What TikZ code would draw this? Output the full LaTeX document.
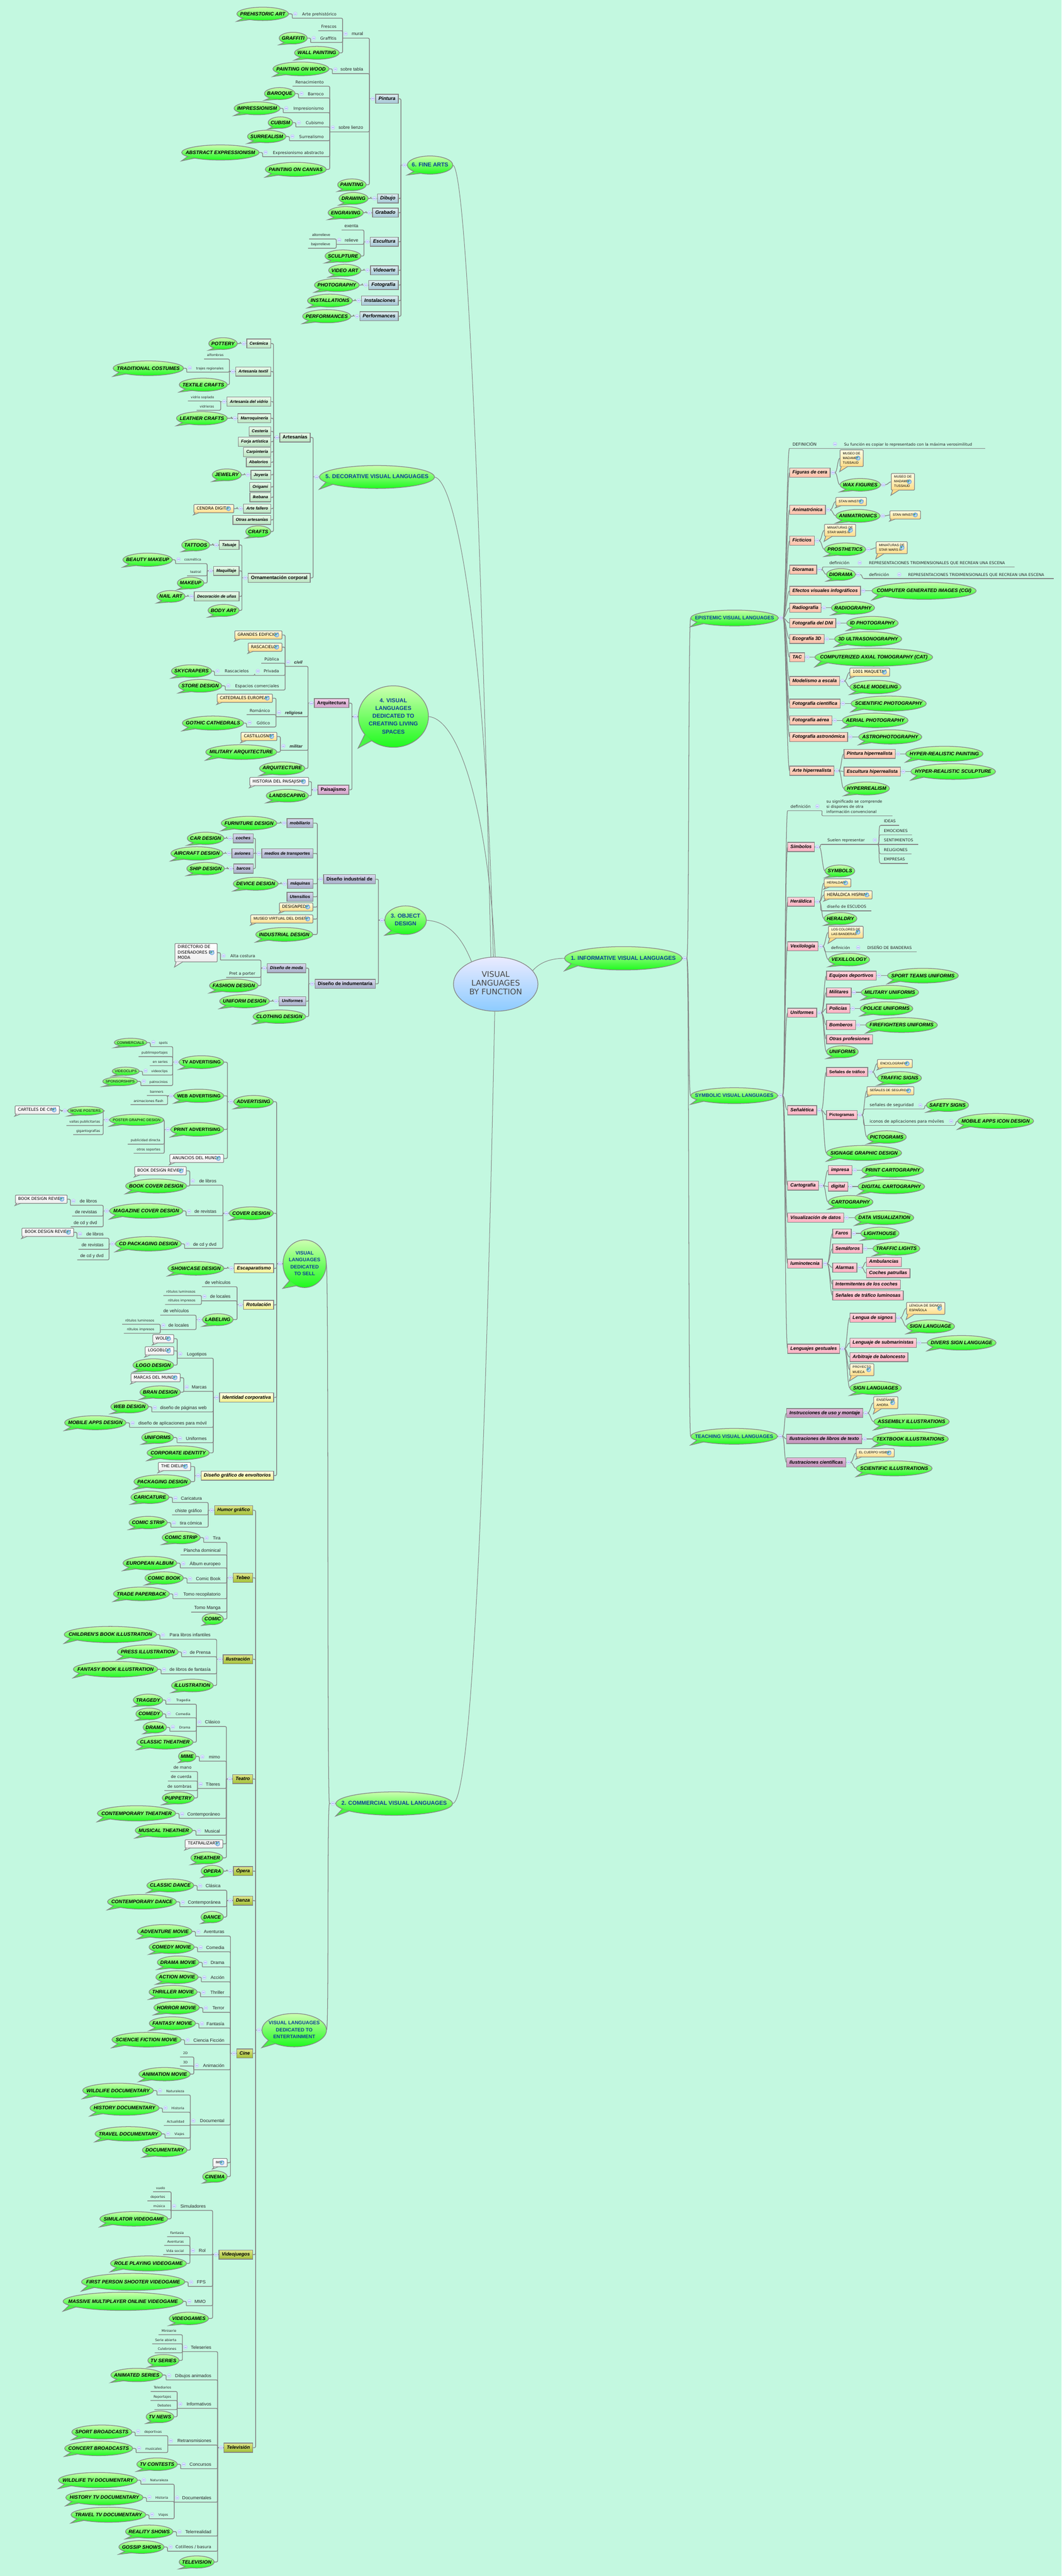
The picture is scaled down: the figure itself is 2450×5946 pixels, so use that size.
\documentclass[tikz,border=0pt]{standalone}
\usepackage{fontspec}
\usetikzlibrary{calc,shapes.geometric}
\newfontfamily\LS{Liberation Sans}
\newfontfamily\DV{DejaVu Sans}
\definecolor{bgc}{HTML}{C3F8E0}
\definecolor{gl}{HTML}{858585}
\definecolor{blu}{HTML}{0B3F96}
\newcommand\fBI[1]{\LS\bfseries\itshape\fontsize{#1}{#1}\selectfont}
\newcommand\fBU[1]{\LS\bfseries\fontsize{#1}{#1}\selectfont}
\newcommand\fbub{\fBI{11.4}}
\newcommand\fblu{\fBU{11.4}\color{blu}}
\newcommand\fad{\fBU{10.6}}
\newcommand\fsm{\LS\fontsize{8.4}{10}\selectfont}
\newcommand\fta{\LS\fontsize{10.5}{12}\selectfont}
\newcommand\ftb{\DV\fontsize{9.5}{12}\selectfont}
\newcommand\ftr{\DV\fontsize{9}{12}\selectfont}
\newcommand\ftc{\DV\fontsize{7.6}{10}\selectfont}
\newcommand\ftd{\LS\fontsize{8.5}{10}\selectfont}
\newcommand\fte{\fBI{9.8}}
\newcommand\flf{\LS\fontsize{7.6}{10.8}\selectfont}
\newcommand\flg{\DV\fontsize{9.4}{12}\selectfont}
\newcommand\flh{\LS\fontsize{9}{12}\selectfont}
\definecolor{topg}{HTML}{CCFFB0}\definecolor{botg}{HTML}{1EFA1E}\definecolor{tailg}{HTML}{48F444}
\definecolor{foldc}{HTML}{DCE4FF}\definecolor{foldb}{HTML}{C0CAF0}
\definecolor{Lyb}{HTML}{FFDC88}
\definecolor{R6a}{HTML}{DCECEE}\definecolor{R6b}{HTML}{A4C6D6}
\definecolor{R5a}{HTML}{EAFAEA}\definecolor{R5b}{HTML}{B8E4C0}
\definecolor{R4a}{HTML}{F4CCEA}\definecolor{R4b}{HTML}{CFA2C8}
\definecolor{R3a}{HTML}{D8D8EC}\definecolor{R3b}{HTML}{A6AEC8}
\definecolor{Rya}{HTML}{FFFFE4}\definecolor{Ryb}{HTML}{F0F08C}
\definecolor{Roa}{HTML}{DCE48A}\definecolor{Rob}{HTML}{A2C034}
\definecolor{Rpa}{HTML}{FFDCCC}\definecolor{Rpb}{HTML}{FFBFA8}
\definecolor{Rqa}{HTML}{FFD4DC}\definecolor{Rqb}{HTML}{FFAFC0}
\definecolor{Rta}{HTML}{E4BCDC}\definecolor{Rtb}{HTML}{C090B8}
\definecolor{glo}{HTML}{5C9AD8}\definecolor{gli}{HTML}{D8ECFA}
\tikzset{
 eline/.style={draw=gl,line width=1.7pt,rounded corners=3pt,line join=round},
 cline/.style={draw=gl,line width=1.5pt,line join=round},
 redge/.style={draw=gl,line width=1.2pt},
 bline/.style={draw=gl,line width=1.5pt,line join=miter},
 tailf/.style={fill=tailg},
 bub/.style={ellipse,draw=gl,line width=1.5pt,top color=topg,bottom color=botg,inner sep=0pt,outer sep=0pt},
 foldn/.style={ellipse,draw=foldb,fill=foldc,line width=.7pt,minimum width=9pt,minimum height=9pt,inner sep=0pt},
 foldm/.style={draw=foldb!80!blue,line width=.7pt},
 tx/.style={inner sep=0pt,outer sep=0pt,text=black!85},
 rbox/.style={rectangle,draw=gl,line width=1.7pt,minimum height=21pt,inner xsep=6.5pt,inner ysep=0pt,outer sep=0pt,text height=8.5pt,text depth=2.5pt,text=black},
 lnk/.style={rectangle,rounded corners=1.5pt,draw=gl,line width=1.5pt,minimum height=19pt,inner xsep=6.5pt,inner ysep=3pt,outer sep=0pt,text=black},
 ly/.style={top color=white!90!yellow,bottom color=Lyb},
 lw/.style={top color=white,bottom color=black!7},
 ly-tail/.style={fill=Lyb},
 lw-tail/.style={fill=black!7},
 r6/.style={top color=R6a,bottom color=R6b,font=\fBI{11.3}},
 r5a/.style={top color=R5a,bottom color=R5b,font=\fBU{11.2}},
 r5/.style={top color=R5a,bottom color=R5b,font=\fBI{9.5}},
 r4/.style={top color=R4a,bottom color=R4b,font=\fBU{11.2}},
 r3a/.style={top color=R3a,bottom color=R3b,font=\fBU{11.1}},
 r3/.style={top color=R3a,bottom color=R3b,font=\fBI{9.8}},
 ry/.style={top color=Rya,bottom color=Ryb,font=\fBI{11}},
 ro/.style={top color=Roa,bottom color=Rob,font=\fBI{11}},
 rp/.style={top color=Rpa,bottom color=Rpb,font=\fBI{10.9}},
 rq/.style={top color=Rqa,bottom color=Rqb,font=\fBI{10.9}},
 rqs/.style={top color=Rqa,bottom color=Rqb,font=\fBU{9.6}},
 rt/.style={top color=Rta,bottom color=Rtb,font=\fBI{10.9}},
}
\newlength\qw \newlength\qh
\newbox\qbox
\def\qhbase{22.5}
\newcommand\qtail[4]{%
 \pgfmathsetmacro\qda{#2}\pgfmathsetmacro\qdb{#3}%
 \pgfmathsetmacro\qua{1-\qda/\qa}\pgfmathsetmacro\qub{1-\qdb/\qa}%
 \pgfmathsetmacro\qya{\qb*sqrt(abs(1-\qua*\qua))}%
 \pgfmathsetmacro\qyb{\qb*sqrt(abs(1-\qub*\qub))}%
 \pgfmathsetmacro\qyt{\qb+#4}%
 \begin{scope}[shift={(#1.west)}]
  \fill[tailf] (\qda,\qya) -- (-0.5,\qyt) -- (\qdb,\qyb) -- cycle;
  \draw[bline] (\qda,\qya) -- (-0.5,\qyt) -- (\qdb,\qyb);
 \end{scope}}
\newcommand\bubcore[6]{%
 \setbox\qbox\hbox{\pgfinterruptpicture#1#6\endpgfinterruptpicture}%
 \qw=1.06\wd\qbox \advance\qw by 9pt\relax
 \pgfmathsetlength\qh{\qhbase pt+0.07*\qw}%
 \node[bub,anchor=#3,minimum width=\the\qw,minimum height=\the\qh] (#2) at (#4,#5) {\makebox[0pt]{#1#6}};
 \pgfmathsetmacro\qa{\qw/2}\pgfmathsetmacro\qb{\qh/2}%
 \qtail{#2}{min(14,0.35*\qa)}{min(30,0.8*\qa)}{2}%
}
\newcommand\xE[2]{\draw[eline] (#1-o) -| (#2-i);}
\newcommand\xC[2]{\draw[cline] (#2-i) .. controls ([xshift=6pt]#2-i) and ([xshift=-6pt]#1-o) .. (#1-o);}
\newcommand\xFold[3]{\node[foldn] (#1-f) at (#2,#3) {};\draw[foldm] ([xshift=-2.6pt]#1-f.center) -- ([xshift=2.6pt]#1-f.center);}
\newcommand\xFL[1]{\coordinate (#1-i) at ([xshift=-14.6pt]#1.west);\draw[cline] (#1-i) -- (#1.west);
 \node[foldn] (#1-f) at ([xshift=-6.7pt]#1.west) {};\draw[foldm] ([xshift=-2.6pt]#1-f.center) -- ([xshift=2.6pt]#1-f.center);}
\newcommand\xFR[1]{\coordinate (#1-i) at ([xshift=11pt]#1.east);\draw[cline] (#1-i) -- (#1.east);
 \node[foldn] (#1-f) at ([xshift=6.5pt]#1.east) {};\draw[foldm] ([xshift=-2.6pt]#1-f.center) -- ([xshift=2.6pt]#1-f.center);}
% left side
\newcommand\xBl[6][\fbub]{\bubcore{#1}{#2}{east}{#4}{#5}{#6}\coordinate (#2-o) at (#2.east);\xE{#2}{#3}}
\newcommand\kRL[6]{\node[rbox,#3,anchor=east] (#1) at (#4,#5) {#6};\coordinate (#1-o) at (#1.east);\xE{#1}{#2}}
\newcommand\kRF[6]{\kRL{#1}{#2}{#3}{#4}{#5}{#6}\xFL{#1}}
\newcommand\kTl[6][\ftb]{\node[tx,anchor=base east,font=#1] (#2) at ({#4-14},{#5-6}) {#6};\coordinate (#2-o) at ([xshift=-7pt,yshift=-6pt]#2.base west);\xE{#2}{#3}}
\newcommand\kTP[7][\ftb]{\node[tx,anchor=base east,font=#1] (#2) at ({#5-14},{#6-6}) {#7};\coordinate (#2-o) at (#4,#6);\coordinate (#2-i) at (#4,#6);\xE{#2}{#3}\xFold{#2}{#4+7}{#6-10}}
\newcommand\xLink[7]{%
 \setbox\qbox\hbox{\pgfinterruptpicture#1\begin{tabular}{@{}l@{}}#7\end{tabular}\endpgfinterruptpicture}%
 \ifdim\dimexpr\ht\qbox+\dp\qbox\relax>16pt \def\qth{12}\def\qtb{15}\else \def\qth{5}\def\qtb{9}\fi
 \node[lnk,#4,anchor=#3] (#2) at (#5,#6) {#1\begin{tabular}{@{}l@{}}#7\end{tabular}\hspace{18.5pt}};
 \fill[#4-tail] ([xshift=3pt]#2.south west) -- ([xshift=-1pt,yshift=-\qth pt]#2.south west) -- ([xshift=3pt+\qtb pt]#2.south west) -- cycle;
 \draw[bline] ([xshift=3pt]#2.south west) -- ([xshift=-1pt,yshift=-\qth pt]#2.south west) -- ([xshift=3pt+\qtb pt]#2.south west);
 \coordinate (#2-g) at ([xshift=-12pt]#2.east);
 \shade[inner color=gli,outer color=glo] (#2-g) circle (5.5pt);
 \fill[green!55!black,opacity=.55] ([xshift=-1.5pt,yshift=1pt]#2-g) circle (2pt);
}
\newcommand\kLL[7][\flg]{\xLink{#1}{#2}{east}{#4}{#5}{#6}{#7}\coordinate (#2-o) at (#2.east);\xE{#2}{#3}}
% right side
\newcommand\kBR[6][\fbub]{\bubcore{#1}{#2}{west}{#4}{#5}{#6}\coordinate (#2-o) at (#2.west);\xC{#2}{#3}}
\newcommand\kRr[6]{\node[rbox,#3,anchor=west] (#1) at (#4,#5) {#6};\coordinate (#1-o) at (#1.west);\xC{#1}{#2}}
\newcommand\kRg[6]{\kRr{#1}{#2}{#3}{#4}{#5}{#6}\xFR{#1}}
\newcommand\kLR[7][\flf]{\xLink{#1}{#2}{west}{#4}{#5}{#6}{#7}\coordinate (#2-o) at (#2.west);\xC{#2}{#3}}
\newcommand\xTrb[7]{\node[tx,anchor=base west,font=\qfont] (#1) at (#6,{#5-6}) {#7};\coordinate (#1-o) at (#3,#5);\coordinate (#1-i) at (#4,#5);\draw[cline] (#1-o) -- (#1-i);\xC{#1}{#2}}
\newcommand\kTr[8][\ftr]{\def\qfont{#1}\xTrb{#2}{#3}{#4}{#5}{#6}{#7}{#8}}
% big bubbles
\newcommand\kBX[7][13]{%
 \pgfmathsetlength\qw{#5 pt}\pgfmathsetlength\qh{#6 pt}%
 \pgfmathsetmacro\qlsp{1.38*#1}%
 \node[bub,minimum width=\the\qw,minimum height=\the\qh,text=blu] (#2) at (#3,#4) {\makebox[0pt]{\LS\bfseries\fontsize{#1}{\qlsp}\selectfont\begin{tabular}{@{}c@{}}#7\end{tabular}}};
 \pgfmathsetmacro\qa{\qw/2}\pgfmathsetmacro\qb{\qh/2}%
 \qtail{#2}{min(15,0.35*\qa)}{min(31,0.8*\qa)}{2}%
}
\begin{document}
\begin{tikzpicture}[x=1pt,y=-1pt]
\useasboundingbox (0,0) rectangle (2450,5946);
\fill[bgc] (0,0) rectangle (2450,5946);
% ---------- root and level one
\node[ellipse,draw=gl,line width=1.5pt,top color=blue!8!white,bottom color=blue!45!cyan!45!white,minimum width=195pt,minimum height=125pt,inner sep=0pt,text=black!72] (root) at (1144,2271.6) {\makebox[0pt]{\DV\fontsize{18}{20.3}\selectfont\begin{tabular}{@{}c@{}}VISUAL\\LANGUAGES\\BY FUNCTION\end{tabular}}};
\kBX{fine}{992.5}{381}{105}{42}{6. FINE ARTS}
\kBX{deco}{870}{1101}{265.5}{53}{5. DECORATIVE VISUAL LANGUAGES}
\kBX{vl4}{907.8}{1654}{162}{142}{4. VISUAL\\LANGUAGES\\DEDICATED TO\\CREATING LIVING\\SPACES}
\kBX{obj}{936}{2124}{96}{66}{3. OBJECT\\DESIGN}
\kBX{inf}{1438.5}{2212}{271}{54}{1. INFORMATIVE VISUAL LANGUAGES}
\kBX{comm}{909.7}{4163}{269.4}{54}{2. COMMERCIAL VISUAL LANGUAGES}
\draw[redge] (fine.east) .. controls (1072,385) and (1105,1000) .. (root.100);
\draw[redge] (deco.east) .. controls (1055,1110) and (1122,1500) .. (root.95);
\draw[redge] (vl4.east) .. controls (1065,1660) and (1128,1900) .. (root.91);
\draw[redge] (obj.east) .. controls (1040,2128) and (1068,2170) .. (root.137);
\draw[redge] (inf.west) .. controls (1270,2212) and (1245,2222) .. (root.20);
\draw[redge] (comm.east) .. controls (1100,4160) and (1128,3000) .. (root.268);
\xFL{fine}\xFL{deco}\xFL{vl4}\xFL{obj}\xFL{comm}\xFR{inf}
\kBX[11.4]{sell}{703}{2917}{100}{110}{VISUAL\\LANGUAGES\\DEDICATED\\TO SELL}
\kBX[11.4]{ent}{679}{4686}{149}{77}{VISUAL LANGUAGES\\DEDICATED TO\\ENTERTAINMENT}
\coordinate (sell-o) at (sell.east);\coordinate (ent-o) at (ent.east);
\draw[cline] (comm-i) .. controls ([xshift=-6pt]comm-i) and ([xshift=6pt]sell-o) .. (sell-o);
\draw[cline] (comm-i) .. controls ([xshift=-6pt]comm-i) and ([xshift=6pt]ent-o) .. (ent-o);
\xFL{sell}\xFL{ent}
% ---------- 6 fine arts
\kRF{pin}{fine}{r6}{919}{228}{Pintura}
\kTP[\fta]{mur}{pin}{790.7}{852}{88}{mural}
\kTP{apr}{mur}{674.6}{790.7}{42}{Arte prehistórico}
\xBl{bpre}{apr}{666}{32}{PREHISTORIC ART}
\kTl{fre}{mur}{790.7}{70.8}{Frescos}
\kTP{gra}{mur}{717}{790.7}{98}{Graffitis}
\xBl{bgra}{gra}{709}{88}{GRAFFITI}
\xBl{bwal}{mur}{783}{122}{WALL PAINTING}
\kTP[\fta]{sot}{pin}{767}{852}{170}{sobre tabla}
\xBl{bwoo}{sot}{759.5}{159}{PAINTING ON WOOD}
\kTP[\fta]{sol}{pin}{761}{852}{304.4}{sobre lienzo}
\kTl{ren}{sol}{761}{199}{Renacimiento}
\kTP{bar}{sol}{689}{761}{226}{Barroco}
\xBl{bbar}{bar}{681}{216}{BAROQUE}
\kTP{imp}{sol}{653.6}{761}{260}{Impresionismo}
\xBl{bimp}{imp}{646.5}{250}{IMPRESSIONISM}
\kTP{cub}{sol}{682.7}{761}{293}{Cubismo}
\xBl{bcub}{cub}{675.5}{283}{CUBISM}
\kTP{sur}{sol}{668}{761}{324.7}{Surrealismo}
\xBl{bsur}{sur}{660}{315}{SURREALISM}
\kTP{exa}{sol}{606}{761}{361.6}{Expresionismo abstracto}
\xBl{bexa}{exa}{598}{352}{ABSTRACT EXPRESSIONISM}
\xBl{bcan}{sol}{753}{391}{PAINTING ON CANVAS}
\xBl{bpai}{pin}{845}{426.5}{PAINTING}
\kRF{dib}{fine}{r6}{919}{458}{Dibujo}
\xBl{bdra}{dib}{849.6}{458}{DRAWING}
\kRF{grb}{fine}{r6}{919}{491}{Grabado}
\xBl{beng}{grb}{838.5}{491}{ENGRAVING}
\kRF{esc}{fine}{r6}{919}{558}{Escultura}
\kTl[\fta]{exe}{esc}{840.7}{531}{exenta}
\kTP[\fta]{rel}{esc}{776}{840.7}{564}{relieve}
\kTl[\ftd]{alt}{rel}{776}{551.6}{altorrelieve}
\kTl[\ftd]{baj}{rel}{776}{573}{bajorrelieve}
\xBl{bscu}{esc}{833}{591}{SCULPTURE}
\kRF{vid}{fine}{r6}{919}{624}{Videoarte}
\xBl{bvid}{vid}{833}{624}{VIDEO ART}
\kRF{fot}{fine}{r6}{919}{658}{Fotografía}
\xBl{bpho}{fot}{829}{658}{PHOTOGRAPHY}
\kRF{ins}{fine}{r6}{919}{694}{Instalaciones}
\xBl{bins}{ins}{813.5}{694}{INSTALLATIONS}
\kRF{per}{fine}{r6}{919}{730}{Performances}
\xBl{bper}{per}{810}{730}{PERFORMANCES}
% ---------- 5 decorative
\kRF{art}{deco}{r5a}{716}{1009.7}{Artesanías}
\kRF{orn}{deco}{r5a}{716}{1334}{Ornamentación corporal}
\kRF{cer}{art}{r5}{625.2}{793}{Cerámica}
\xBl{bpot}{cer}{547.6}{793}{POTTERY}
\kRF{tex}{art}{r5}{625.2}{857.5}{Artesanía textil}
\kTl[\ftc]{alf}{tex}{530}{828.7}{alfombras}
\kTP[\ftc]{tra}{tex}{431}{530}{859}{trajes regionales}
\xBl{btra}{tra}{423.7}{850}{TRADITIONAL COSTUMES}
\xBl{btex}{tex}{524.7}{888}{TEXTILE CRAFTS}
\kRF{vdr}{art}{r5}{625.2}{927}{Artesanía del vidrio}
\kTl[\ftc]{vso}{vdr}{508}{925.5}{vidrio soplado}
\kTl[\ftc]{vdi}{vdr}{508}{947}{vidrieras}
\kRF{mar}{art}{r5}{625.2}{965.5}{Marroquinería}
\xBl{blea}{mar}{524.7}{965.5}{LEATHER CRAFTS}
\kRL{ces}{art}{r5}{625.2}{995.7}{Cestería}
\kRL{for}{art}{r5}{625.2}{1019.6}{Forja artística}
\kRL{car}{art}{r5}{625.2}{1043.4}{Carpintería}
\kRL{aba}{art}{r5}{625.2}{1067}{Abalorios}
\kRF{joy}{art}{r5}{625.2}{1096}{Joyería}
\xBl{bjew}{joy}{557}{1096}{JEWELRY}
\kRL{ori}{art}{r5}{625.2}{1124}{Origami}
\kRL{ike}{art}{r5}{625.2}{1148}{Ikebana}
\kRF{fal}{art}{r5}{625.2}{1174}{Arte fallero}
\kLL{lcen}{fal}{ly}{539.5}{1174}{CENDRA DIGITAL}
\kRL{otr}{art}{r5}{625.2}{1200}{Otras artesanías}
\xBl{bcra}{art}{625}{1227}{CRAFTS}
\kRF{tat}{orn}{r5}{551.7}{1258}{Tatuaje}
\xBl{btat}{tat}{484}{1258}{TATTOOS}
\kRF{maq}{orn}{r5}{551.7}{1317.7}{Maquillaje}
\kTP[\ftc]{cos}{maq}{405}{478}{1301}{cosmética}
\xBl{bbea}{cos}{398}{1292}{BEAUTY MAKEUP}
\kTl[\ftc]{tea}{maq}{478}{1329}{teatral}
\xBl{bmak}{maq}{470.6}{1345.8}{MAKEUP}
\kRF{una}{orn}{r5}{551.7}{1376.6}{Decoración de uñas}
\xBl{bnai}{una}{427}{1376.6}{NAIL ART}
\xBl{bbod}{orn}{552}{1409}{BODY ART}
% ---------- 4 living spaces
\kRF{arq}{vl4}{r4}{805}{1623}{Arquitectura}
\kRF{pai}{vl4}{r4}{805}{1823}{Paisajismo}
\kTP[\fte]{civ}{arq}{658}{712}{1538}{civil}
\kLL{lgra}{civ}{ly}{650.7}{1465.7}{GRANDES EDIFICIOS}
\kLL{lras}{civ}{ly}{650.7}{1493.8}{RASCACIELOS}
\kTl{pub}{civ}{658}{1531}{Pública}
\kTP{pri}{civ}{588}{658}{1559}{Privada}
\kTP{ras}{pri}{495}{588}{1559}{Rascacielos}
\xBl{bsky}{ras}{488.5}{1549}{SKYCRAPERS}
\kTP{ecm}{civ}{520}{658}{1592.7}{Espacios comerciales}
\xBl{bsto}{ecm}{512}{1583}{STORE DESIGN}
\kTP[\fte]{rlg}{arq}{637}{712}{1654.4}{religiosa}
\kLL{lcat}{rlg}{ly}{628.8}{1611.6}{CATEDRALES EUROPEAS}
\kTl{rom}{rlg}{637}{1649.5}{Románico}
\kTP{got}{rlg}{569}{637}{1678}{Gótico}
\xBl{bgot}{got}{562.4}{1669}{GOTHIC CATHEDRALS}
\kTP[\fte]{mil}{arq}{647}{712}{1732}{militar}
\kLL{lcas}{mil}{ly}{639}{1700}{CASTILLOSNET}
\xBl{bmil}{mil}{639}{1736}{MILITARY ARQUITECTURE}
\xBl{barq}{arq}{703.8}{1773.7}{ARQUITECTURE}
\kLL{lhis}{pai}{lw}{712.4}{1804}{HISTORIA DEL PAISAJISMO}
\xBl{blan}{pai}{712}{1836.7}{LANDSCAPING}
% ---------- 3 object design
\kRF{dis}{obj}{r3a}{866}{2029.4}{Diseño industrial de}
\kRF{ind}{obj}{r3a}{866}{2271}{Diseño de indumentaria}
\kRF{mob}{dis}{r3}{722.2}{1900}{mobiliario}
\xBl{bfur}{mob}{639}{1900}{FURNITURE DESIGN}
\kRF{med}{dis}{r3}{722.2}{1970}{medios de transportes}
\kRF{coc}{med}{r3}{584.6}{1935}{coches}
\xBl{bcar}{coc}{517}{1935}{CAR DESIGN}
\kRF{avi}{med}{r3}{584.6}{1970}{aviones}
\xBl{bair}{avi}{514.6}{1970}{AIRCRAFT DESIGN}
\kRF{bcs}{med}{r3}{584.6}{2005}{barcos}
\xBl{bshi}{bcs}{518}{2005}{SHIP DESIGN}
\kRF{maq2}{dis}{r3}{722.2}{2040}{máquinas}
\xBl{bdev}{maq2}{642}{2040}{DEVICE DESIGN}
\kRL{ute}{dis}{r3}{722.2}{2070}{Utensilios}
\kLL{ldes}{dis}{ly}{722}{2093.6}{DESIGNPEDIA}
\kLL[\flh]{lmus}{dis}{ly}{722}{2121.3}{MUSEO VIRTUAL DEL DISEÑO}
\xBl{bindu}{dis}{722}{2157}{INDUSTRIAL DESIGN}
\kRF{mod}{ind}{r3}{705.6}{2234.6}{Diseño de moda}
\kTP{alc}{mod}{508.8}{603}{2216}{Alta costura}
\kLL{ldir}{alc}{lw}{501.3}{2199}{DIRECTORIO DE\\DISEÑADORES DE\\MODA}
\kTl{pre}{mod}{603}{2256}{Pret a porter}
\xBl{bfas}{mod}{595.8}{2275}{FASHION DESIGN}
\kRF{uni}{ind}{r3}{705.6}{2311}{Uniformes}
\xBl{buni}{uni}{622}{2311}{UNIFORM DESIGN}
\xBl{bclo}{ind}{705.6}{2346.6}{CLOTHING DESIGN}
% ---------- sell
\xBl{badv}{sell}{630.8}{2543}{ADVERTISING}\xFL{badv}
\xBl[\fad]{btva}{badv}{516.5}{2451.7}{TV ADVERTISING}\xFL{btva}
\kTP[\ftc]{spo}{btva}{347}{401}{2415.8}{spots}
\def\qhbase{14.5}
\xBl[\fsm]{bcom}{spo}{339}{2406.4}{COMMERCIALS}
\def\qhbase{22.5}
\kTl[\ftc]{pbl}{btva}{401}{2438.8}{publirreportajes}
\kTl[\ftc]{ens}{btva}{401}{2459.8}{en series}
\kTP[\ftc]{vic}{btva}{329}{401}{2481.4}{videoclips}
\def\qhbase{14.5}
\xBl[\fsm]{bvic}{vic}{321.4}{2472.6}{VIDEOCLIPS}
\def\qhbase{22.5}
\kTP[\ftc]{pat}{btva}{325}{401}{2505.7}{patrocinios}
\def\qhbase{14.5}
\xBl[\fsm]{bspo}{pat}{317.4}{2496}{SPONSORSHIPS}
\def\qhbase{22.5}
\xBl[\fad]{bwea}{badv}{516.5}{2529.4}{WEB ADVERTISING}\xFL{bwea}
\kTl[\ftc]{ban}{bwea}{391}{2528.7}{banners}
\kTl[\ftc]{anf}{bwea}{391}{2549.7}{animaciones flash}
\xBl[\fad]{bpra}{badv}{516.5}{2607}{PRINT ADVERTISING}\xFL{bpra}
\def\qhbase{17}
\xBl[\fsm]{bpos}{bpra}{378}{2585}{POSTER GRAPHIC DESIGN}\xFL{bpos}
\def\qhbase{14.5}
\xBl[\fsm]{bmov}{bpos}{239}{2564}{MOVIE POSTERS}\xFL{bmov}
\def\qhbase{22.5}
\kLL{lcar}{bmov}{lw}{137}{2562}{CARTELES DE CINE}
\kTl[\ftc]{val}{bpos}{245}{2598}{vallas publicitarias}
\kTl[\ftc]{gig}{bpos}{245}{2619}{gigantografías}
\kTl[\ftc]{pdi}{bpra}{384}{2641}{publicidad directa}
\kTl[\ftc]{osp}{bpra}{384}{2662}{otros soportes}
\kLL{lanu}{badv}{lw}{516}{2674}{ANUNCIOS DEL MUNDO}
\xBl{bcov}{sell}{630.8}{2800.5}{COVER DESIGN}\xFL{bcov}
\kTP[\fta]{dl1}{bcov}{438}{513.4}{2735.6}{de libros}
\kLL{lbd1}{dl1}{lw}{430}{2702.5}{BOOK DESIGN REVIEW}
\xBl{bboo}{dl1}{431}{2737.6}{BOOK COVER DESIGN}
\kTP[\fta]{dr1}{bcov}{429.4}{513.4}{2806}{de revistas}
\xBl{bmag}{dr1}{422.3}{2795}{MAGAZINE COVER DESIGN}\xFL{bmag}
\kTP[\fta]{dl2}{bmag}{162.5}{238}{2782}{de libros}
\kLL{lbd2}{dl2}{lw}{155}{2768}{BOOK DESIGN REVIEW}
\kTl[\fta]{dr2}{bmag}{238}{2807}{de revistas}
\kTl[\fta]{dc2}{bmag}{238}{2831.6}{de cd y dvd}
\kTP[\fta]{dc1}{bcov}{426}{513.4}{2881.6}{de cd y dvd}
\xBl{bcdp}{dc1}{418.7}{2871}{CD PACKAGING DESIGN}\xFL{bcdp}
\kTP[\fta]{dl3}{bcdp}{177.7}{253}{2858}{de libros}
\kLL{lbd3}{dl3}{lw}{170}{2844.4}{BOOK DESIGN REVIEW}
\kTl[\fta]{dr3}{bcdp}{253}{2883.6}{de revistas}
\kTl[\fta]{dc3}{bcdp}{253}{2908}{de cd y dvd}
\kRF{eca}{sell}{ry}{631.7}{2927.6}{Escaparatismo}
\xBl{bsho}{eca}{517}{2927.6}{SHOWCASE DESIGN}
\kRF{rot}{sell}{ry}{631.7}{3012}{Rotulación}
\kTl[\fta]{dv1}{rot}{546}{2970}{de vehículos}
\kTP[\fta]{dlo1}{rot}{465}{546}{3002.6}{de locales}
\kTl[\ftc]{rl1}{dlo1}{465}{2990.4}{rótulos luminosos}
\kTl[\ftc]{ri1}{dlo1}{465}{3011}{rótulos impresos}
\xBl{blab}{rot}{538}{3046}{LABELING}\xFL{blab}
\kTl[\fta]{dv2}{blab}{450}{3035.7}{de vehículos}
\kTP[\fta]{dlo2}{blab}{370}{450}{3069}{de locales}
\kTl[\ftc]{rl2}{dlo2}{370}{3056.7}{rótulos luminosos}
\kTl[\ftc]{ri2}{dlo2}{370}{3077.6}{rótulos impresos}
\kRF{ide}{sell}{ry}{631.7}{3225.7}{Identidad corporativa}
\kTP[\fta]{log}{ide}{409}{491}{3135}{Logotipos}
\kLL{lwol}{log}{lw}{401}{3090}{WOLDA}
\kLL{llog}{log}{lw}{401}{3118}{LOGOBLOG}
\xBl{blog}{log}{401}{3151}{LOGO DESIGN}
\kTP[\fta]{mrc}{ide}{424}{491}{3211.5}{Marcas}
\kLL{lmar}{mrc}{lw}{416}{3180}{MARCAS DEL MUNDO}
\xBl{bbra}{mrc}{416.5}{3213.5}{BRAN DESIGN}
\kTP[\fta]{dpw}{ide}{350.4}{491}{3259}{diseño de páginas web}
\xBl{bweb}{dpw}{342.4}{3247}{WEB DESIGN}
\kTP[\fta]{dap}{ide}{299}{491}{3294.6}{diseño de aplicaciones para móvil}
\xBl{bmob}{dap}{291}{3284}{MOBILE APPS DESIGN}
\kTP[\fta]{unf}{ide}{408.5}{491}{3330}{Uniformes}
\xBl{bunf}{unf}{400.4}{3318}{UNIFORMS}
\xBl{bcor}{ide}{483}{3353.5}{CORPORATE IDENTITY}
\kRF{env}{sell}{ry}{631.7}{3406}{Diseño gráfico de envoltorios}
\kLL[\LS\fontsize{10}{12}\selectfont]{ldie}{env}{lw}{440}{3385}{THE DIELINE}
\xBl{bpac}{env}{440.6}{3420}{PACKAGING DESIGN}
% ---------- entertainment
\kRF{hum}{ent}{ro}{583.3}{3486}{Humor gráfico}
\kTP[\fta]{cat}{hum}{398}{480}{3468}{Caricatura}
\xBl{bcat}{cat}{390}{3456}{CARICATURE}
\kTl[\fta]{chi}{hum}{480}{3496.6}{chiste gráfico}
\kTP[\fta]{tcm}{hum}{394.3}{480}{3525}{tira cómica}
\xBl{bcs1}{tcm}{386}{3514.4}{COMIC STRIP}
\kRF{teb}{ent}{ro}{583.3}{3642}{Tebeo}
\kTP[\fta]{tir}{teb}{470}{523}{3560}{Tira}
\xBl{bcs2}{tir}{462.3}{3549}{COMIC STRIP}
\kTl[\fta]{pla}{teb}{523}{3589}{Plancha dominical}
\kTP[\fta]{alb}{teb}{416}{523}{3619}{Álbum europeo}
\xBl{beur}{alb}{408.3}{3608}{EUROPEAN ALBUM}
\kTP[\fta]{cbk}{teb}{431.7}{523}{3654}{Comic Book}
\xBl{bcbk}{cbk}{423.3}{3642.4}{COMIC BOOK}
\kTP[\fta]{tom}{teb}{399}{523}{3690}{Tomo recopilatorio}
\xBl{btrd}{tom}{391.3}{3679}{TRADE PAPERBACK}
\kTl[\fta]{tma}{teb}{523}{3721}{Tomo Manga}
\xBl{bcmc}{teb}{515.7}{3737}{COMIC}
\kRF{ilu}{ent}{ro}{583.3}{3830}{Ilustración}
\kTP[\fta]{pli}{ilu}{369}{500}{3783.7}{Para libros infantiles}
\xBl{bchi}{pli}{361.3}{3772.8}{CHILDREN'S BOOK ILLUSTRATION}
\kTP[\fta]{dpr}{ilu}{419}{500}{3824}{de Prensa}
\xBl{bprs}{dpr}{411.7}{3813}{PRESS ILLUSTRATION}
\kTP[\fta]{dlf}{ilu}{371.7}{500}{3863.5}{de libros de fantasía}
\xBl{bfan}{dlf}{364.3}{3853}{FANTASY BOOK ILLUSTRATION}
\xBl{bill}{ilu}{492.3}{3890.5}{ILLUSTRATION}
\kRF{tet}{ent}{ro}{583.3}{4106.4}{Teatro}
\kTP[\fta]{cla}{tet}{453.3}{521.7}{3985}{Clásico}
\kTP[\ftc]{trg}{cla}{382.7}{453.3}{3933.6}{Tragedia}
\xBl{btrg}{trg}{375.7}{3924}{TRAGEDY}
\kTP[\ftc]{cmd}{cla}{382.7}{453.3}{3965}{Comedia}
\xBl{bcmd}{cmd}{375.7}{3956}{COMEDY}
\kTP[\ftc]{drm}{cla}{392}{453.3}{3996}{Drama}
\xBl{bdrm}{drm}{384.3}{3987}{DRAMA}
\xBl{bclt}{cla}{445.7}{4021.4}{CLASSIC THEATHER}
\kTP[\fta]{mim}{tet}{460}{521.7}{4065}{mimo}
\xBl{bmim}{mim}{452.3}{4054}{MIME}
\kTP[\fta]{tit}{tet}{456}{521.7}{4128}{Títeres}
\kTl{dma}{tit}{456}{4089}{de mano}
\kTl{dcu}{tit}{456}{4111}{de cuerda}
\kTl{dso}{tit}{456}{4133}{de sombras}
\xBl{bpup}{tit}{448.3}{4150}{PUPPETRY}
\kTP[\fta]{ctp}{tet}{413.3}{521.7}{4197}{Contemporáneo}
\xBl{bctp}{ctp}{405.7}{4185.6}{CONTEMPORARY THEATHER}
\kTP[\fta]{mus}{tet}{452.3}{521.7}{4236}{Musical}
\xBl{bmus}{mus}{444.3}{4225}{MUSICAL THEATHER}
\kLL{ltea}{tet}{lw}{514.3}{4256}{TEATRALIZARTE}
\xBl{bthe}{tet}{514.3}{4288.3}{THEATHER}
\kRF{ope}{ent}{ro}{583.3}{4318.9}{Ópera}
\xBl{bope}{ope}{516}{4318.9}{OPERA}
\kRF{dan}{ent}{ro}{583.3}{4387}{Danza}
\kTP[\fta]{clc}{dan}{455}{523}{4363}{Clásica}
\xBl{bcld}{clc}{447.3}{4352}{CLASSIC DANCE}
\kTP[\fta]{ctn}{dan}{415}{523}{4401}{Contemporánea}
\xBl{bctd}{ctn}{407.3}{4389.7}{CONTEMPORARY DANCE}
\xBl{bdan}{dan}{515.7}{4425}{DANCE}
\kRF{cin}{ent}{ro}{583.3}{4739.7}{Cine}
\kTP[\fta]{ave}{cin}{451}{531.7}{4468.8}{Aventuras}
\xBl{bave}{ave}{443.3}{4458}{ADVENTURE MOVIE}
\kTP[\fta]{cod}{cin}{456}{531.7}{4505}{Comedia}
\xBl{bcod}{cod}{448.3}{4494.3}{COMEDY MOVIE}
\kTP[\fta]{drd}{cin}{467}{531.7}{4540}{Drama}
\xBl{bdrd}{drd}{459.3}{4529.5}{DRAMA MOVIE}
\kTP[\fta]{acc}{cin}{464.7}{531.7}{4574.4}{Acción}
\xBl{bacc}{acc}{457.3}{4563.7}{ACTION MOVIE}
\kTP[\fta]{thr}{cin}{462.7}{531.7}{4609}{Thriller}
\xBl{bthr}{thr}{455}{4598}{THRILLER MOVIE}
\kTP[\fta]{ter}{cin}{468}{531.7}{4644.8}{Terror}
\xBl{bter}{ter}{460}{4634}{HORROR MOVIE}
\kTP[\fta]{fts}{cin}{459}{531.7}{4681}{Fantasía}
\xBl{bfts}{fts}{451.3}{4670.3}{FANTASY MOVIE}
\kTP[\fta]{cfi}{cin}{426}{531.7}{4718.8}{Ciencia Ficción}
\xBl{bcfi}{cfi}{418.3}{4708}{SCIENCIE FICTION MOVIE}
\kTP[\fta]{anm}{cin}{447.3}{531.7}{4777.4}{Animación}
\kTl[\ftc]{d2d}{anm}{447.3}{4747.9}{2D}
\kTl[\ftc]{d3d}{anm}{447.3}{4768.8}{3D}
\xBl{banm}{anm}{439.3}{4787.6}{ANIMATION MOVIE}
\kTP[\fta]{doc}{cin}{439.3}{531.7}{4905}{Documental}
\kTP[\ftc]{nat}{doc}{362.3}{439.3}{4835.6}{Naturaleza}
\xBl{bnat}{nat}{354.3}{4825.4}{WILDLIFE DOCUMENTARY}
\kTP[\ftc]{hst}{doc}{375}{439.3}{4875.4}{Historia}
\xBl{bhst}{hst}{367.3}{4865.7}{HISTORY DOCUMENTARY}
\kTl[\ftc]{act}{doc}{439.3}{4906}{Actualidad}
\kTP[\ftc]{via}{doc}{381}{439.3}{4935}{Viajes}
\xBl{bvia}{via}{373.3}{4925.4}{TRAVEL DOCUMENTARY}
\xBl{bdoc}{doc}{431.7}{4963}{DOCUMENTARY}
\kLL[\LS\fontsize{8}{10}\selectfont]{limd}{cin}{lw}{524.3}{4992}{IMDB}
\xBl{bcin}{cin}{524.3}{5024}{CINEMA}
\kRF{vjg}{ent}{ro}{583.3}{5204}{Videojuegos}
\kTP[\fta]{sim}{vjg}{395}{488.7}{5102}{Simuladores}
\kTl[\ftc]{vue}{sim}{395}{5059}{vuelo}
\kTl[\ftc]{dep}{sim}{395}{5080}{deportes}
\kTl[\ftc]{mua}{sim}{395}{5101}{música}
\xBl{bsim}{sim}{387.3}{5121.6}{SIMULATOR VIDEOGAME}
\kTP[\fta]{rol}{vjg}{438.3}{488.7}{5204.7}{Rol}
\kTl[\ftc]{fnt}{rol}{438.3}{5162.6}{Fantasia}
\kTl[\ftc]{avt}{rol}{438.3}{5183}{Aventuras}
\kTl[\ftc]{vso2}{rol}{438.3}{5204}{Vida social}
\xBl{brol}{rol}{430.7}{5224.6}{ROLE PLAYING VIDEOGAME}
\kTP[\fta]{fps}{vjg}{434.3}{488.7}{5277.5}{FPS}
\xBl{bfps}{fps}{426.7}{5267}{FIRST PERSON SHOOTER VIDEOGAME}
\kTP[\fta]{mmo}{vjg}{430}{488.7}{5322}{MMO}
\xBl{bmmo}{mmo}{422.7}{5312}{MASSIVE MULTIPLAYER ONLINE VIDEOGAME}
\xBl{bvgm}{vjg}{481.3}{5351.4}{VIDEOGAMES}
\kRF{tel}{ent}{ro}{583.3}{5649.8}{Televisión}
\kTP[\fta]{tls}{tel}{421}{501.7}{5428}{Teleseries}
\kTl[\ftc]{mis}{tls}{421}{5389}{Miniserie}
\kTl[\ftc]{sab}{tls}{421}{5410}{Serie abierta}
\kTl[\ftc]{cul}{tls}{421}{5430.7}{Culebrones}
\xBl{btvs}{tls}{413.3}{5448.5}{TV SERIES}
\kTP[\fta]{dan2}{tel}{383.3}{501.7}{5493.3}{Dibujos animados}
\xBl{bans}{dan2}{375.3}{5482}{ANIMATED SERIES}
\kTP[\fta]{inf2}{tel}{409}{501.7}{5559}{Informativos}
\kTl[\ftc]{tld}{inf2}{409}{5520}{Telediarios}
\kTl[\ftc]{rep}{inf2}{409}{5540.8}{Reportajes}
\kTl[\ftc]{deb}{inf2}{409}{5561.8}{Debates}
\xBl{btvn}{inf2}{401.3}{5578.5}{TV NEWS}
\kTP[\fta]{ret}{tel}{387.3}{501.7}{5643.8}{Retransmisiones}
\kTP[\ftc]{dpv}{ret}{312}{387.3}{5622}{deportivas}
\xBl{bspb}{dpv}{304.7}{5613.6}{SPORT BROADCASTS}
\kTP[\ftc]{msc}{ret}{314}{387.3}{5661}{musicales}
\xBl{bcob}{msc}{306.3}{5651.4}{CONCERT BROADCASTS}
\kTP[\fta]{con}{tel}{417}{501.7}{5698.3}{Concursos}
\xBl{bcon}{con}{409.3}{5688}{TV CONTESTS}
\kTP[\fta]{dcs}{tel}{402}{501.7}{5775.4}{Documentales}
\kTP[\ftc]{nat2}{dcs}{325}{402}{5734}{Naturaleza}
\xBl{bwtv}{nat2}{317.3}{5724.7}{WILDLIFE TV DOCUMENTARY}
\kTP[\ftc]{hst2}{dcs}{338}{402}{5773.8}{Historia}
\xBl{bhtv}{hst2}{330.3}{5764.7}{HISTORY TV DOCUMENTARY}
\kTP[\ftc]{via2}{dcs}{344}{402}{5813.8}{Viajes}
\xBl{bttv}{via2}{336.7}{5804.6}{TRAVEL TV DOCUMENTARY}
\kTP[\fta]{trl}{tel}{407.3}{501.7}{5853.7}{Telerrealidad}
\xBl{brea}{trl}{399.3}{5843.4}{REALITY SHOWS}
\kTP{cot}{tel}{386.7}{501.7}{5888.7}{Cotilleos / basura}
\xBl{bgos}{cot}{378.7}{5879}{GOSSIP SHOWS}
\xBl{btel}{tel}{494.3}{5913.6}{TELEVISION}
% ---------- informative
\kBR[\fblu]{ep}{inf}{1594}{1426.5}{EPISTEMIC VISUAL LANGUAGES}\xFR{ep}
\kBR[\fblu]{sy}{inf}{1594}{2529}{SYMBOLIC VISUAL LANGUAGES}\xFR{sy}
\kBR[\fblu]{te}{inf}{1594}{3315.3}{TEACHING VISUAL LANGUAGES}\xFR{te}
% epistemic
\kTr[\ftb]{hdf}{ep}{1822}{1941}{1034.8}{1829}{DEFINICIÓN}
\xFold{hdf}{1927}{1025}
\kTr{hsu}{hdf}{1941}{2273.5}{1034.8}{1948}{Su función es copiar lo representado con la máxima verosimilitud}
\kRg{hfi}{ep}{rp}{1822.2}{1091}{Figuras de cera}
\kLR{lmu1}{hfi}{ly}{1938.6}{1057.5}{MUSEO DE\\MADAME\\TUSSAUD}
\kBR{bwax}{hfi}{1938.6}{1119}{WAX FIGURES}\xFR{bwax}
\kLR{lmu2}{bwax}{ly}{2057}{1112}{MUSEO DE\\MADAME\\TUSSAUD}
\kRg{han}{ep}{rp}{1822.2}{1176.8}{Animatrónica}
\kLR{lst1}{han}{ly}{1929}{1157.7}{STAN WINSTON}
\kBR{bani}{han}{1929}{1190.8}{ANIMATRONICS}\xFR{bani}
\kLR{lst2}{bani}{ly}{2053.8}{1188.6}{STAN WINSTON}
\kRg{hfc}{ep}{rp}{1822.2}{1248}{Ficticios}
\kLR{lmi1}{hfc}{ly}{1902.8}{1224}{MINIATURAS DE\\STAR WARS III}
\kBR{bpro}{hfc}{1902.8}{1268}{PROSTHETICS}\xFR{bpro}
\kLR{lmi2}{bpro}{ly}{2022}{1264.3}{MINIATURAS DE\\STAR WARS III}
\kRg{hdi}{ep}{rp}{1822.2}{1314.8}{Dioramas}
\kTr[\ftb]{hd1}{hdi}{1900.6}{1988.5}{1308.7}{1914}{definición}
\xFold{hd1}{1984}{1299}
\kTr{hr1}{hd1}{1988.5}{2341.6}{1308.7}{2005.6}{REPRESENTACIONES TRIDIMENSIONALES QUE RECREAN UNA ESCENA}
\kBR{bdio}{hdi}{1907.4}{1326}{DIORAMA}\xFR{bdio}
\kTr[\ftb]{hd2}{bdio}{1994}{2079}{1335.6}{2005.6}{definición}
\xFold{hd2}{2075.4}{1326}
\kTr{hr2}{hd2}{2079}{2432.4}{1335.6}{2096}{REPRESENTACIONES TRIDIMENSIONALES QUE RECREAN UNA ESCENA}
\kRg{hef}{ep}{rp}{1822.2}{1363.7}{Efectos visuales infográficos}
\kBR{bcgi}{hef}{2012.4}{1363.7}{COMPUTER GENERATED IMAGES (CGI)}
\kRg{hra}{ep}{rp}{1822.2}{1403}{Radiografía}
\kBR{brad}{hra}{1918.7}{1403}{RADIOGRAPHY}
\kRg{hdn}{ep}{rp}{1822.2}{1438.3}{Fotografía del DNI}
\kBR{bidp}{hdn}{1954}{1438.3}{ID PHOTOGRAPHY}
\kRg{hec}{ep}{rp}{1822.2}{1474.8}{Ecografía 3D}
\kBR{bult}{hec}{1926}{1474.8}{3D ULTRASONOGRAPHY}
\kRg{hta}{ep}{rp}{1822.2}{1517}{TAC}
\kBR{bcat2}{hta}{1880.7}{1517}{COMPUTERIZED AXIAL TOMOGRAPHY (CAT)}
\kRg{hmo}{ep}{rp}{1822.2}{1571.9}{Modelismo a escala}
\kLR[\flg]{lmaq}{hmo}{ly}{1961.3}{1551.7}{1001 MAQUETAS}
\kBR{bsca}{hmo}{1961.3}{1585.9}{SCALE MODELING}
\kRg{hci}{ep}{rp}{1822.2}{1624}{Fotografía científica}
\kBR{bsci}{hci}{1964}{1624}{SCIENTIFIC PHOTOGRAPHY}
\kRg{hae}{ep}{rp}{1822.2}{1662.8}{Fotografía aérea}
\kBR{baer}{hae}{1944}{1662.8}{AERIAL PHOTOGRAPHY}
\kRg{has}{ep}{rp}{1822.2}{1701}{Fotografía astronómica}
\kBR{bast}{has}{1981.7}{1701}{ASTROPHOTOGRAPHY}
\kRg{hhi}{ep}{rp}{1822.2}{1779}{Arte hiperrealista}
\kRg{hph}{hhi}{rp}{1947.7}{1740}{Pintura hiperrealista}
\kBR{bhpa}{hph}{2090}{1740}{HYPER-REALISTIC PAINTING}
\kRg{heh}{hhi}{rp}{1947.7}{1781}{Escultura hiperrealista}
\kBR{bhsc}{heh}{2102}{1781}{HYPER-REALISTIC SCULPTURE}
\kBR{bhyp}{hhi}{1947.7}{1820}{HYPERREALISM}
% symbolic
\kTr[\ftb]{idf}{sy}{1817.7}{1895}{1871}{1824.5}{definición}
\xFold{idf}{1886.4}{1861}
\kTr{isu}{idf}{1899}{2059.5}{1883}{1907.4}{\begin{tabular}[b]{@{}l@{}}su significado se  comprende\\si dispones de otra\\información convencional\end{tabular}}
\kRg{isi}{sy}{rq}{1817.7}{1955}{Símbolos}
\kTr{isr}{isi}{1896}{2025.4}{1949}{1909.6}{Suelen representar}
\xFold{isr}{2019}{1939}
\kTr{iid}{isr}{2032}{2075.4}{1905}{2040}{IDEAS}
\kTr{iem}{isr}{2032}{2104.3}{1926.8}{2040}{EMOCIONES}
\kTr{ise}{isr}{2032}{2119}{1949}{2040}{SENTIMIENTOS}
\kTr{ire}{isr}{2032}{2103.8}{1970.7}{2040}{RELIGIONES}
\kTr{iep}{isr}{2032}{2095}{1993}{2040}{EMPRESAS}
\kBR{bsym}{isi}{1904}{2010.3}{SYMBOLS}
\kRg{ihe}{sy}{rq}{1817.7}{2081.3}{Heráldica}
\kLR{lhe1}{ihe}{ly}{1902}{2038}{HERALDARIA}
\kLR[\flg]{lhe2}{ihe}{ly}{1902}{2065.6}{HERÁLDICA HISPANA}
\kTr{ies}{ihe}{1896.6}{2011}{2102.4}{1908.5}{diseño de ESCUDOS}
\kBR{bher}{ihe}{1901.7}{2120.3}{HERALDRY}
\kRg{ive}{sy}{rq}{1817.7}{2184.3}{Vexilología}
\kLR{lvex}{ive}{ly}{1912}{2151.8}{LOS COLORES DE\\LAS BANDERAS}
\kTr{ivd}{ive}{1906}{1977}{2196.8}{1918}{definición}
\xFold{ivd}{1980.6}{2187}
\kTr{ivb}{ivd}{1977}{2116}{2196.8}{2001.6}{DISEÑO DE BANDERAS}
\kBR{bvex}{ive}{1912}{2215}{VEXILLOLOGY}
\kRg{iun}{sy}{rq}{1817.7}{2337.7}{Uniformes}
\kRg{ieq}{iun}{rq}{1907.4}{2252}{Equipos deportivos}
\kBR{bstu}{ieq}{2048}{2252}{SPORT TEAMS UNIFORMS}
\kRg{iml}{iun}{rq}{1907.4}{2290.5}{Militares}
\kBR{bmiu}{iml}{1987.4}{2290.5}{MILITARY UNIFORMS}
\kRg{ipo}{iun}{rq}{1907.4}{2328}{Policías}
\kBR{bpou}{ipo}{1985}{2328}{POLICE UNIFORMS}
\kRg{ibo}{iun}{rq}{1907.4}{2366}{Bomberos}
\kBR{bfiu}{ibo}{1998}{2366}{FIREFIGHTERS UNIFORMS}
\kRr{iot}{iun}{rq}{1907.4}{2399}{Otras profesiones}
\kBR{bunf2}{iun}{1907.4}{2427.7}{UNIFORMS}
\kRg{isn}{sy}{rq}{1817.7}{2562.7}{Señalética}
\kRg{itr}{isn}{rqs}{1907.4}{2474.3}{Señales de tráfico}
\kLR{lenc}{itr}{ly}{2025}{2455}{ENCICLOGRAFICA}
\kBR{btrs}{itr}{2025}{2488.4}{TRAFFIC SIGNS}
\kRg{ipi}{isn}{rqs}{1907.4}{2573.5}{Pictogramas}
\kLR{lsen}{ipi}{ly}{2001}{2517.7}{SEÑALES DE SEGURIDAD}
\kTr[\ftb]{iss}{ipi}{1996}{2130.4}{2560}{2007.3}{señales de seguridad}
\xFold{iss}{2124}{2551.3}
\kBR{bsaf}{iss}{2137.8}{2550.8}{SAFETY SIGNS}
\kTr[\ftb]{iic}{ipi}{1996}{2201.4}{2598}{2007.3}{iconos de aplicaciones para móviles}
\xFold{iic}{2195}{2588}
\kBR{bmai}{iic}{2210}{2587.6}{MOBILE APPS ICON DESIGN}
\kBR{bpic}{ipi}{2001}{2624.5}{PICTOGRAMS}
\kBR{bsig}{isn}{1907.4}{2661.3}{SIGNAGE GRAPHIC DESIGN}
\kRg{icr}{sy}{rq}{1817.7}{2736.7}{Cartografía}
\kRg{iip}{icr}{rq}{1911.4}{2701}{impresa}
\kBR{bpcg}{iip}{1989}{2701}{PRINT CARTOGRAPHY}
\kRg{idg}{icr}{rq}{1911.4}{2738.8}{digital}
\kBR{bdcg}{idg}{1980}{2738.8}{DIGITAL CARTOGRAPHY}
\kBR{bcrt}{icr}{1911.4}{2774.5}{CARTOGRAPHY}
\kRg{ivz}{sy}{rq}{1817.7}{2810.7}{Visualización de datos}
\kBR{bdvz}{ivz}{1973}{2810.7}{DATA VISUALIZATION}
\kRg{ilu2}{sy}{rq}{1817.7}{2916.8}{luminotecnia}
\kRg{ifa}{ilu2}{rq}{1921.6}{2847}{Faros}
\kBR{blig}{ifa}{1986.8}{2847}{LIGHTHOUSE}
\kRg{ism}{ilu2}{rq}{1921.6}{2882}{Semáforos}
\kBR{btfl}{ism}{2014.6}{2882}{TRAFFIC LIGHTS}
\kRg{ial}{ilu2}{rq}{1921.6}{2926}{Alarmas}
\kRr{iam}{ial}{rq}{1999.3}{2912.8}{Ambulancias}
\kRr{icp}{ial}{rq}{1999.3}{2938.8}{Coches patrullas}
\kRr{iin}{ilu2}{rq}{1921.6}{2964.8}{Intermitentes de los coches}
\kRr{itl}{ilu2}{rq}{1921.6}{2990.3}{Señales de tráfico luminosas}
\kRg{ilg}{sy}{rq}{1817.7}{3113.3}{Lenguajes gestuales}
\kRg{ils}{ilg}{rq}{1961.3}{3041.8}{Lengua de signos}
\kLR{llse}{ils}{ly}{2092}{3020}{LENGUA DE SIGNOS\\ESPAÑOLA}
\kBR{bsl1}{ils}{2092}{3061.7}{SIGN LANGUAGE}
\kRg{isb}{ilg}{rq}{1961.3}{3099.5}{Lenguaje de submarinistas}
\kBR{bdiv}{isb}{2139.5}{3099.5}{DIVERS SIGN LANGUAGE}
\kRr{iab}{ilg}{rq}{1961.3}{3132.6}{Arbitraje de baloncesto}
\kLR{lpro}{ilg}{ly}{1961.3}{3161.7}{PROYECTO\\MUECA}
\kBR{bsl2}{ilg}{1961.3}{3203.6}{SIGN LANGUAGES}
% teaching
\kRg{jin}{te}{rt}{1815.4}{3261.7}{Instrucciones de uso y montaje}
\kLR{lens}{jin}{ly}{2016.4}{3237.8}{ENSÉÑAME\\AHORA}
\kBR{bass}{jin}{2016.4}{3281.6}{ASSEMBLY ILLUSTRATIONS}
\kRg{jil}{te}{rt}{1815.4}{3321.4}{Ilustraciones de libros de texto}
\kBR{btxt}{jil}{2013.5}{3321.4}{TEXTBOOK ILLUSTRATIONS}
\kRg{jic}{te}{rt}{1815.4}{3375.5}{Ilustraciones científicas}
\kLR{lcue}{jic}{ly}{1976}{3353.6}{EL CUERPO VISIBLE}
\kBR{bsil}{jic}{1976}{3389.3}{SCIENTIFIC ILLUSTRATIONS}
\end{tikzpicture}
\end{document}
